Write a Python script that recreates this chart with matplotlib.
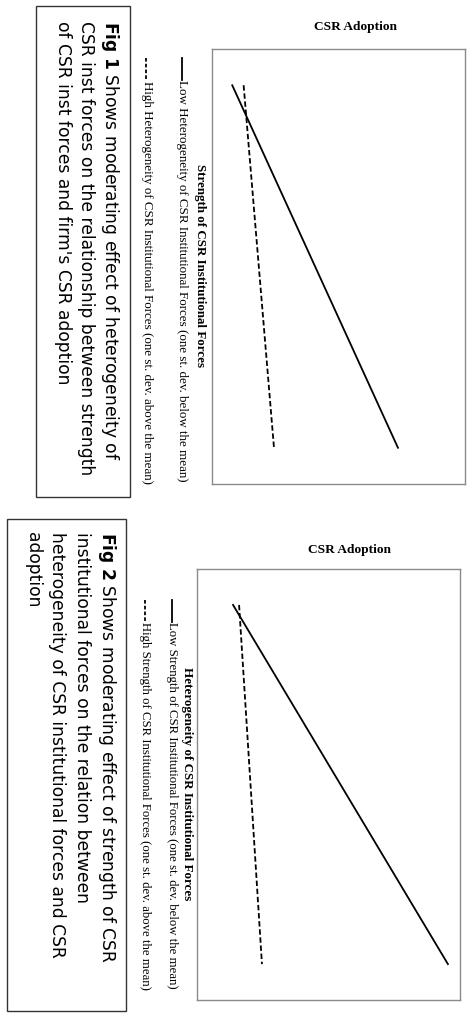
"""Two rotated moderation plots (CSR adoption) with their captions"""
import matplotlib
matplotlib.use('Agg')
import matplotlib.pyplot as plt
from matplotlib.patches import Rectangle
from matplotlib.lines import Line2D

W, H = 474, 1019

# predictor levels: one st. dev. below / above the mean
levels = [-1, 1]

# Fig 1: strength of CSR inst forces, moderated by heterogeneity
fig1_low_het = [0.8, 7.35]
fig1_high_het = [1.25, 2.45]
fig1_xlabel = 'Strength of CSR Institutional Forces'
fig1_legend = ['Low Heterogeneity of CSR Institutional Forces (one st. dev. below the mean)',
               'High Heterogeneity of CSR Institutional Forces (one st. dev. above the mean)']
fig1_caption = [r'$\mathbf{Fig\ 1}$ Shows moderating effect of heterogeneity of',
                'CSR inst forces on the relationship between strength',
                "of CSR inst forces and firm's CSR adoption"]

# Fig 2: heterogeneity of CSR inst forces, moderated by strength
fig2_low_str = [1.37, 9.54]
fig2_high_str = [1.6, 2.47]
fig2_xlabel = 'Heterogeneity of CSR Institutional Forces'
fig2_legend = ['Low Strength of CSR Institutional Forces (one st. dev. below the mean)',
               'High Strength of CSR Institutional Forces (one st. dev. above the mean)']
fig2_caption = [r'$\mathbf{Fig\ 2}$ Shows moderating effect of strength of CSR',
                'institutional forces on the relation between',
                'heterogeneity of CSR institutional forces and CSR',
                'adoption']

ylabel = 'CSR Adoption'

CAPTION = 'DejaVu Sans'
SERIF = 'Liberation Serif'

plt.rcParams['mathtext.fontset'] = 'custom'
plt.rcParams['mathtext.bf'] = CAPTION + ':bold'
plt.rcParams['mathtext.rm'] = CAPTION

fig = plt.figure(figsize=(W / 100, H / 100), dpi=100)
fig.patch.set_facecolor('white')


def fx(x):
    return x / W


def fy(y):
    return 1 - y / H


def add_panel(left, top, right, bottom, solid, dashed):
    ax = fig.add_axes([fx(left), fy(bottom), fx(right - left), (bottom - top) / H])
    ax.plot(solid, levels, color='black', lw=1.3)
    ax.plot(dashed, levels, color='black', lw=1.3, ls=(0, (3, 1.5)))
    ax.set_xlim(0, 10)
    ax.set_ylim(1.2, -1.2)
    ax.set_xticks([])
    ax.set_yticks([])
    for s in ax.spines.values():
        s.set_color('#8a8a8a')
        s.set_linewidth(1.0)
    return ax


def vtext(x, y, s, **kw):
    fig.text(fx(x), fy(y), s, rotation=-90, rotation_mode='anchor', **kw)


def legend_mark(x, y0, y1, ls):
    fig.add_artist(Line2D([fx(x), fx(x)], [fy(y0), fy(y1)], transform=fig.transFigure,
                          color='black', lw=1.3, ls=ls))


def caption_box(left, top, right, bottom):
    fig.add_artist(Rectangle((fx(left), fy(bottom)), fx(right - left), (bottom - top) / H,
                             transform=fig.transFigure, fill=False, ec='#333333', lw=1.0))


# ---- panel 1 ----
add_panel(212, 49, 465, 484, fig1_low_het, fig1_high_het)
fig.text(fx(356), fy(27), ylabel, ha='center', va='center', family=SERIF,
         fontweight='bold', fontsize=9.6)
vtext(200, 266, fig1_xlabel, ha='center', va='center', family=SERIF,
      fontweight='bold', fontsize=9.4)
legend_mark(182, 58, 80, '-')
legend_mark(146, 58, 80, (0, (2, 1.2)))
vtext(182, 80, fig1_legend[0], ha='left', va='center', family=SERIF, fontsize=9.4)
vtext(147, 81, fig1_legend[1], ha='left', va='center', family=SERIF, fontsize=9.4)
caption_box(36, 6, 130, 497)
for x, line in zip([110, 86, 63], fig1_caption):
    vtext(x, 21, line, ha='left', va='center', family=CAPTION, fontsize=12.3)

# ---- panel 2 ----
add_panel(197, 569, 460, 1000, fig2_low_str, fig2_high_str)
fig.text(fx(350), fy(550), ylabel, ha='center', va='center', family=SERIF,
         fontweight='bold', fontsize=9.6)
vtext(187, 784, fig2_xlabel, ha='center', va='center', family=SERIF,
      fontweight='bold', fontsize=9.4)
legend_mark(172, 600, 622, '-')
legend_mark(145, 600, 621, (0, (2, 1.2)))
vtext(172, 622, fig2_legend[0], ha='left', va='center', family=SERIF, fontsize=9.2)
vtext(145, 622, fig2_legend[1], ha='left', va='center', family=SERIF, fontsize=9.2)
caption_box(7, 519, 126, 1011)
for x, line in zip([107, 82, 57, 33], fig2_caption):
    vtext(x, 532, line, ha='left', va='center', family=CAPTION, fontsize=12.3)

fig.savefig('out.png', dpi=100)
